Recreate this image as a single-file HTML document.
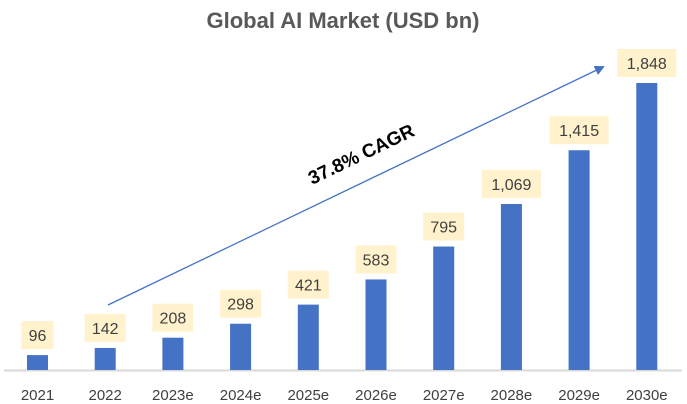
<!DOCTYPE html>
<html><head><meta charset="utf-8"><style>
body{margin:0;background:#fff;}
svg{display:block;font-family:"Liberation Sans",sans-serif;}
</style></head><body>
<svg id="chart" width="687" height="404">
<text x="343" y="28" text-anchor="middle" font-size="22" font-weight="bold" fill="#595959">Global AI Market (USD bn)</text>
<line x1="4" y1="370.5" x2="682" y2="370.5" stroke="#d9d9d9" stroke-width="2"/>
<g id="bars"></g>
<defs><marker id="ah" markerWidth="10" markerHeight="10" refX="8" refY="5" orient="auto" markerUnits="userSpaceOnUse"><path d="M0,0 L10,5 L0,10 z" fill="#4472c4"/></marker></defs>
<line x1="108" y1="305" x2="603" y2="67" stroke="#4472c4" stroke-width="1.3" marker-end="url(#ah)"/>
<text x="0" y="0" transform="translate(364,160) rotate(-25.7)" text-anchor="middle" font-size="19" font-weight="bold" fill="#000">37.8% CAGR</text>
</svg>
<script>
const categories=["2021","2022","2023e","2024e","2025e","2026e","2027e","2028e","2029e","2030e"];
const values=[96,142,208,298,421,583,795,1069,1415,1848];
const valueLabels=["96","142","208","298","421","583","795","1,069","1,415","1,848"];
const NS="http://www.w3.org/2000/svg";
const g=document.getElementById("bars");
const baseY=370, scale=287/1848, x0=37.5, step=67.7, bw=21;
function xPos(i){return x0+i*step;}
function yPos(v){return baseY-v*scale;}
categories.forEach((c,i)=>{
  const cx=xPos(i), top=yPos(values[i]);
  const r=document.createElementNS(NS,"rect");
  r.setAttribute("x",cx-bw/2);r.setAttribute("y",top);r.setAttribute("width",bw);r.setAttribute("height",baseY-top);r.setAttribute("fill","#4472c4");
  
  
  g.appendChild(r);
  const lbl=valueLabels[i];
  const w=lbl.length*9+14;
  const b=document.createElementNS(NS,"rect");
  b.setAttribute("x",cx-w/2);b.setAttribute("y",top-34);b.setAttribute("width",w);b.setAttribute("height",28);b.setAttribute("fill","#fff2cc");
  
  
  g.appendChild(b);
  const t=document.createElementNS(NS,"text");
  t.setAttribute("x",cx);t.setAttribute("y",top-14);t.setAttribute("text-anchor","middle");t.setAttribute("font-size","16");t.setAttribute("fill","#404040");
  t.textContent=lbl;
  
  
  g.appendChild(t);
  const xt=document.createElementNS(NS,"text");
  xt.setAttribute("x",cx);xt.setAttribute("y",400);xt.setAttribute("text-anchor","middle");xt.setAttribute("font-size","15");xt.setAttribute("fill","#404040");
  xt.textContent=c;
  
  
  g.appendChild(xt);
});
</script>
</body></html>
